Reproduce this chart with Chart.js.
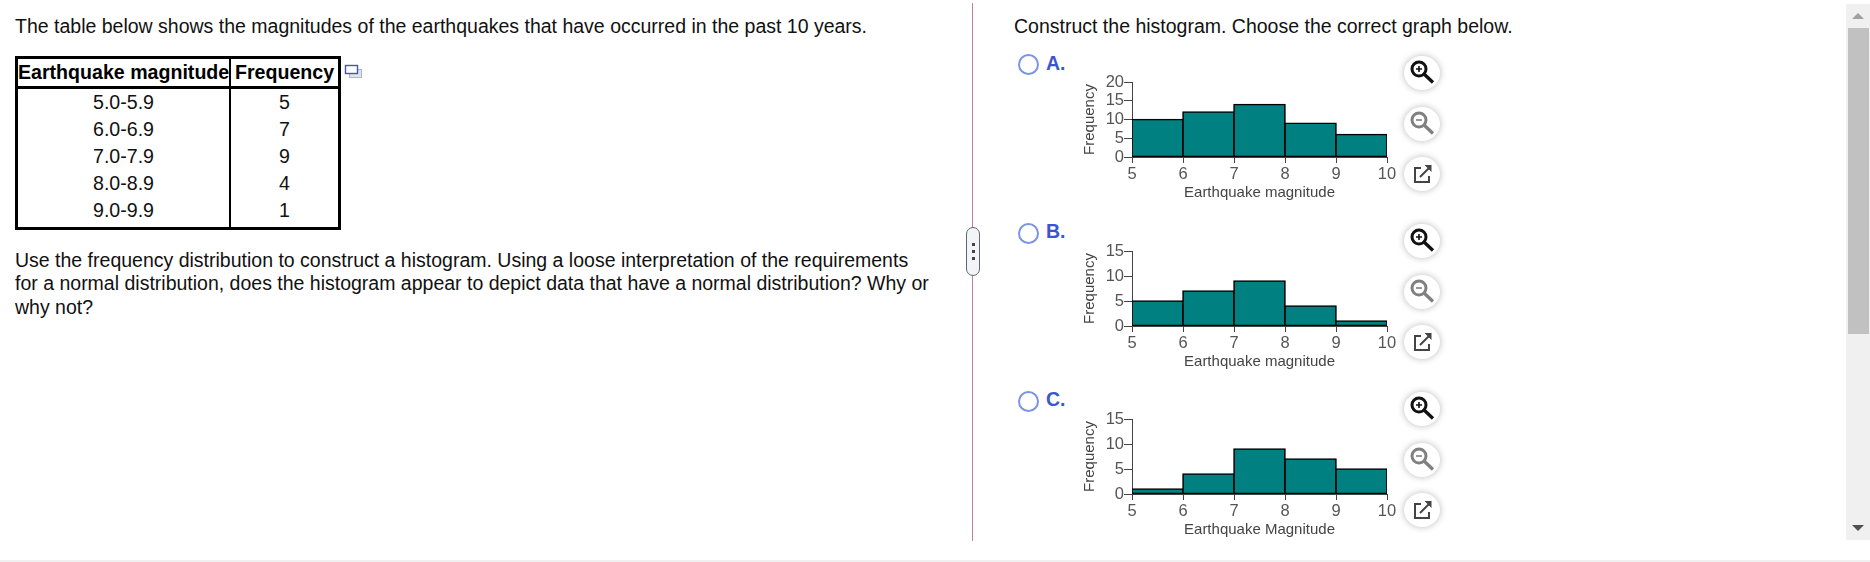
<!DOCTYPE html>
<html><head><meta charset="utf-8">
<script src="https://cdn.jsdelivr.net/npm/chart.js@4"></script>
<style>
html,body{margin:0;padding:0;background:#fff;overflow:hidden}
body{width:1870px;height:562px;position:relative;font-family:"Liberation Sans",Arial,sans-serif;color:#111}
.t{position:absolute;white-space:nowrap;font-size:19.5px;line-height:24px}
table{position:absolute;left:15px;top:56px;width:326px;border-collapse:collapse;border:3px solid #000;font-size:19.6px;table-layout:fixed}
th{font-weight:bold;color:#000;border:0;border-bottom:3px solid #000;height:27px;padding:0;line-height:27px;white-space:nowrap}
td{text-align:center;padding:0;height:27px;line-height:27px;vertical-align:top}
tr:last-child td{height:30px}
.c1{width:211px;border-right:2px solid #000}
canvas{position:absolute}
.radio{position:absolute;left:1018px;width:17px;height:17px;border:2px solid #7b93e6;border-radius:50%;box-sizing:content-box}
.lab{position:absolute;left:1046px;font-weight:bold;font-size:19.5px;color:#3b55cf}
.btn{position:absolute;left:1404px;width:36px;height:34px;border-radius:50%;background:#fff;box-shadow:0 0 7px rgba(0,0,0,.28)}
.btn svg{position:absolute;left:0;top:0}
#div{position:absolute;left:972px;top:3px;width:1px;height:538px;background:#b9809c}
#pill{position:absolute;left:966px;top:227px;width:12px;height:47px;border:1px solid #5f6770;border-radius:7px;background:#f2f4f7;box-sizing:content-box}
#pill i{position:absolute;left:5px;width:3px;height:3px;background:#444}
#track{position:absolute;left:1846px;top:4px;width:24px;height:536px;background:#f0f0f0}
#thumb{position:absolute;left:1848px;top:28px;width:21px;height:306px;background:#c1c1c1}
#foot{position:absolute;left:0;top:560px;width:1870px;height:2px;background:#f0f0f0}
</style></head><body>
<div class="t" style="left:15px;top:14px">The table below shows the magnitudes of the earthquakes that have occurred in the past 10 years.</div>
<table id="tbl"><thead><tr><th class="c1">Earthquake magnitude</th><th>Frequency</th></tr></thead><tbody id="tb"></tbody></table>
<svg style="position:absolute;left:344px;top:63px" width="20" height="18"><rect x="5.5" y="6.5" width="12" height="8" fill="#dfe3f3" stroke="#aab2dc"/><rect x="1.5" y="2.5" width="12" height="8" fill="#fff" stroke="#4a55a5" stroke-width="1.4"/></svg>
<div class="t" style="left:15px;top:248.5px;line-height:23.5px">Use the frequency distribution to construct a histogram. Using a loose interpretation of the requirements<br>for a normal distribution, does the histogram appear to depict data that have a normal distribution? Why or<br>why not?</div>
<div id="div"></div>
<div id="pill"><i style="top:15px"></i><i style="top:22px"></i><i style="top:29px"></i></div>
<div class="t" style="left:1014px;top:14px">Construct the histogram. Choose the correct graph below.</div>
<div id="track"></div><div id="thumb"></div>
<svg style="position:absolute;left:1846px;top:0" width="24" height="562"><path d="M12 13l6 6H6z" fill="#a0a0a0"/><path d="M6 525h12l-6 6z" fill="#505050"/></svg>
<div id="foot"></div>
<script>
const tableRanges=["5.0-5.9","6.0-6.9","7.0-7.9","8.0-8.9","9.0-9.9"];
const tableFrequencies=[5,7,9,4,1];
const binCenters=[5.5,6.5,7.5,8.5,9.5];
const xTickValues=[5,6,7,8,9,10];
const freqA=[10,12,14,9,6];
const freqB=[5,7,9,4,1];
const freqC=[1,4,9,7,5];
const yTicksA=[0,5,10,15,20];
const yTicksB=[0,5,10,15];
const yTicksC=[0,5,10,15];
const xTitleA="Earthquake magnitude";
const xTitleB="Earthquake magnitude";
const xTitleC="Earthquake Magnitude";

document.getElementById('tb').innerHTML=tableRanges.map((r,i)=>`<tr><td class="c1">${r}</td><td>${tableFrequencies[i]}</td></tr>`).join('');

const FONT='"Liberation Sans",Arial,sans-serif';
const PLOT_LEFT=1132, PLOT_RIGHT=1387, CANVAS_LEFT=1075, CANVAS_W=340, X_AXIS_H=45;
function makeChart(values,yTicks,title,plotTop,plotBottom){
  const cTop=plotTop-12, cH=plotBottom-plotTop+12+X_AXIS_H;
  const cv=document.createElement('canvas');
  cv.style.left=CANVAS_LEFT+'px';cv.style.top=cTop+'px';
  cv.style.width=CANVAS_W+'px';cv.style.height=cH+'px';
  document.body.appendChild(cv);
  cv.width=CANVAS_W;cv.height=cH;
  new Chart(cv,{type:'bar',
    data:{datasets:[{data:binCenters.map((x,i)=>({x,y:values[i]})),backgroundColor:'#008080',borderColor:'#000',borderWidth:1.6,borderSkipped:false,inflateAmount:0.8,barPercentage:1,categoryPercentage:1,grouped:false}]},
    options:{responsive:false,animation:false,devicePixelRatio:1,
      layout:{padding:{top:12,right:CANVAS_LEFT+CANVAS_W-PLOT_RIGHT,left:0,bottom:0}},
      plugins:{legend:{display:false},tooltip:{enabled:false}},
      scales:{
        x:{type:'linear',offset:false,min:xTickValues[0],max:xTickValues[xTickValues.length-1],
          afterBuildTicks:s=>{s.ticks=xTickValues.map(v=>({value:v}))},
          grid:{display:true,offset:false,drawOnChartArea:false,drawTicks:true,tickLength:6,color:'#444',lineWidth:1},
          border:{display:true,color:'#444',width:1},
          ticks:{color:'#555',font:{family:FONT,size:16.5},padding:2,maxRotation:0,autoSkip:false,callback:v=>v},
          title:{display:true,text:title,color:'#444',font:{family:FONT,size:15},padding:{top:0,bottom:0}},
          afterFit:s=>{s.height=X_AXIS_H}},
        y:{min:yTicks[0],max:yTicks[yTicks.length-1],
          afterBuildTicks:s=>{s.ticks=yTicks.map(v=>({value:v}))},
          grid:{display:true,drawOnChartArea:false,drawTicks:true,tickLength:8,color:'#444',lineWidth:1},
          border:{display:true,color:'#444',width:1},
          ticks:{color:'#555',font:{family:FONT,size:16.5},padding:0,autoSkip:false,callback:v=>v},
          title:{display:true,text:'Frequency',color:'#444',font:{family:FONT,size:15},padding:{top:6,bottom:0}},
          afterFit:s=>{s.width=PLOT_LEFT-CANVAS_LEFT}}
      }}});
}
makeChart(freqA,yTicksA,xTitleA,82,157);
makeChart(freqB,yTicksB,xTitleB,251,326);
makeChart(freqC,yTicksC,xTitleC,419,494);

const rows=[{l:'A.',ry:54,ly:52,b:[56,107,157]},{l:'B.',ry:223,ly:220,b:[224,275,325]},{l:'C.',ry:391,ly:388,b:[392,443,493]}];
const icons={
 plus:c=>`<svg width="36" height="34" fill="none" stroke="${c}"><circle cx="15" cy="13" r="7" stroke-width="3"/><path d="M20 18l9 8.5" stroke-width="3.4"/><path d="M12 13h6M15 10v6" stroke-width="1.6"/></svg>`,
 minus:c=>`<svg width="36" height="34" fill="none" stroke="${c}"><circle cx="15" cy="13" r="7" stroke-width="3"/><path d="M20 18l9 8.5" stroke-width="3.4"/><path d="M12 13h6" stroke-width="1.6"/></svg>`,
 ext:c=>`<svg width="36" height="34" fill="none" stroke="${c}" stroke-width="2"><path d="M17 11h-6v14h14v-6"/><path d="M16 20l9-9"/><path d="M20.5 8h7v7z" fill="${c}" stroke="none"/></svg>`
};
for(const r of rows){
  document.body.insertAdjacentHTML('beforeend',`<div class="radio" style="top:${r.ry}px"></div><div class="lab" style="top:${r.ly}px">${r.l}</div>`);
  [icons.plus('#111'),icons.minus('#808080'),icons.ext('#444')].forEach((s,i)=>{
    document.body.insertAdjacentHTML('beforeend',`<div class="btn" style="top:${r.b[i]}px">${s}</div>`);
  });
}
</script>
</body></html>
